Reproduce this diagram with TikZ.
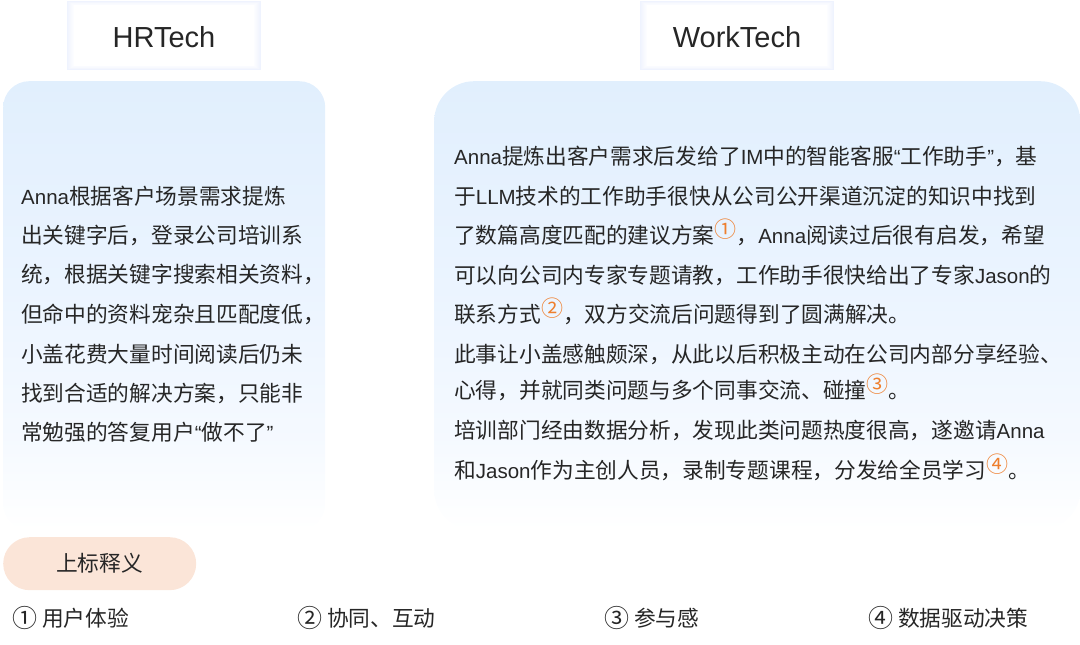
\documentclass[tikz,border=0pt]{standalone}
\usepackage{fontspec}
\setmainfont{Noto Sans CJK SC}
\newfontfamily\latinfont{Liberation Sans}
\definecolor{panelblue}{HTML}{E1EFFD}
\definecolor{panelmid}{HTML}{EBF4FF}
\definecolor{glowblue}{HTML}{EFF3FE}
\definecolor{pillpeach}{HTML}{FBE5D8}
\definecolor{markorange}{HTML}{EE7F2E}
\definecolor{inkgray}{HTML}{262626}
\pgfdeclareverticalshading{panelfade}{100bp}{color(0bp)=(white); color(25bp)=(white); color(35bp)=(panelmid!50!white); color(52bp)=(panelmid); color(75bp)=(panelblue); color(100bp)=(panelblue)}
\newcommand{\supmark}[1]{\raisebox{6pt}{\textcolor{markorange}{\fontsize{22}{24}\selectfont #1}}}
\newcommand{\la}[1]{{\latinfont\fontsize{20.5}{24}\selectfont #1}}
\newcommand{\legendmark}[1]{{\fontsize{25}{24}\selectfont\raisebox{-1pt}{#1}}}
\tikzset{
    panel/.style = {anchor=north west, shading=panelfade, inner sep=0pt},
    titletext/.style = {font=\latinfont\fontsize{29}{32}\selectfont, text=inkgray},
    bodyline/.style = {anchor=base west, inner sep=0pt, text=inkgray, font=\fontsize{21.7}{24}\selectfont},
}
\begin{document}
\begin{tikzpicture}[x=1pt,y=-1pt]
\useasboundingbox (0,0) rectangle (1080,645);
% title boxes
\foreach \cx/\nm/\lbl in {164/hrtitle/HRTech,737/worktitle/WorkTech} {
    \foreach \k in {0,...,7} {
        \fill[glowblue!\the\numexpr100-14*\k\relax!white]
            (\cx-97+\k,1+0.6*\k) rectangle (\cx+97-\k,70-0.6*\k);
    }
    \node[titletext] (\nm) at (\cx,37) {\lbl};
}
% panels
\node[panel, minimum width=322pt, minimum height=449pt, rounded corners=26pt] (hrpanel) at (3,81) {};
\node[panel, minimum width=646pt, minimum height=449pt, rounded corners=40pt] (workpanel) at (434,81) {};
% left text
\foreach \y/\txt [count=\i] in {
    204/{\la{Anna}根据客户场景需求提炼},
    243/{出关键字后，登录公司培训系},
    282/{统，根据关键字搜索相关资料，},
    322/{但命中的资料宠杂且匹配度低，},
    362/{小盖花费大量时间阅读后仍未},
    401/{找到合适的解决方案，只能非},
    440/{常勉强的答复用户\la{“}做不了\la{”}}} {
    \node[bodyline] (hrline\i) at (21,\y) {\txt};
}
% right text
\foreach \y/\txt [count=\i] in {
    164/{\la{Anna}提炼出客户需求后发给了\la{IM}中的智能客服\la{“}工作助手\la{”}，基},
    204/{于\la{LLM}技术的工作助手很快从公司公开渠道沉淀的知识中找到},
    243/{了数篇高度匹配的建议方案\supmark{①}，\la{Anna}阅读过后很有启发，希望},
    283/{可以向公司内专家专题请教，工作助手很快给出了专家\la{Jason}的},
    322/{联系方式\supmark{②}，双方交流后问题得到了圆满解决。},
    362/{此事让小盖感触颇深，从此以后积极主动在公司内部分享经验、},
    398/{心得，并就同类问题与多个同事交流、碰撞\supmark{③}。},
    438/{培训部门经由数据分析，发现此类问题热度很高，遂邀请\la{Anna}},
    478/{和\la{Jason}作为主创人员，录制专题课程，分发给全员学习\supmark{④}。}} {
    \node[bodyline] (workline\i) at (454,\y) {\txt};
}
% legend
\node[anchor=north west, fill=pillpeach, rounded corners=26.5pt, minimum width=193pt, minimum height=53pt, inner sep=0pt] (legendpill) at (3,537) {};
\node[text=inkgray, font=\fontsize{21.7}{24}\selectfont] (legendtitle) at (legendpill.center) {上标释义};
\node[bodyline] (legend1) at (12,626) {\legendmark{①} 用户体验};
\node[bodyline] (legend2) at (297,626) {\legendmark{②} 协同、互动};
\node[bodyline] (legend3) at (604,626) {\legendmark{③} 参与感};
\node[bodyline] (legend4) at (868,626) {\legendmark{④} 数据驱动决策};
\end{tikzpicture}
\end{document}
